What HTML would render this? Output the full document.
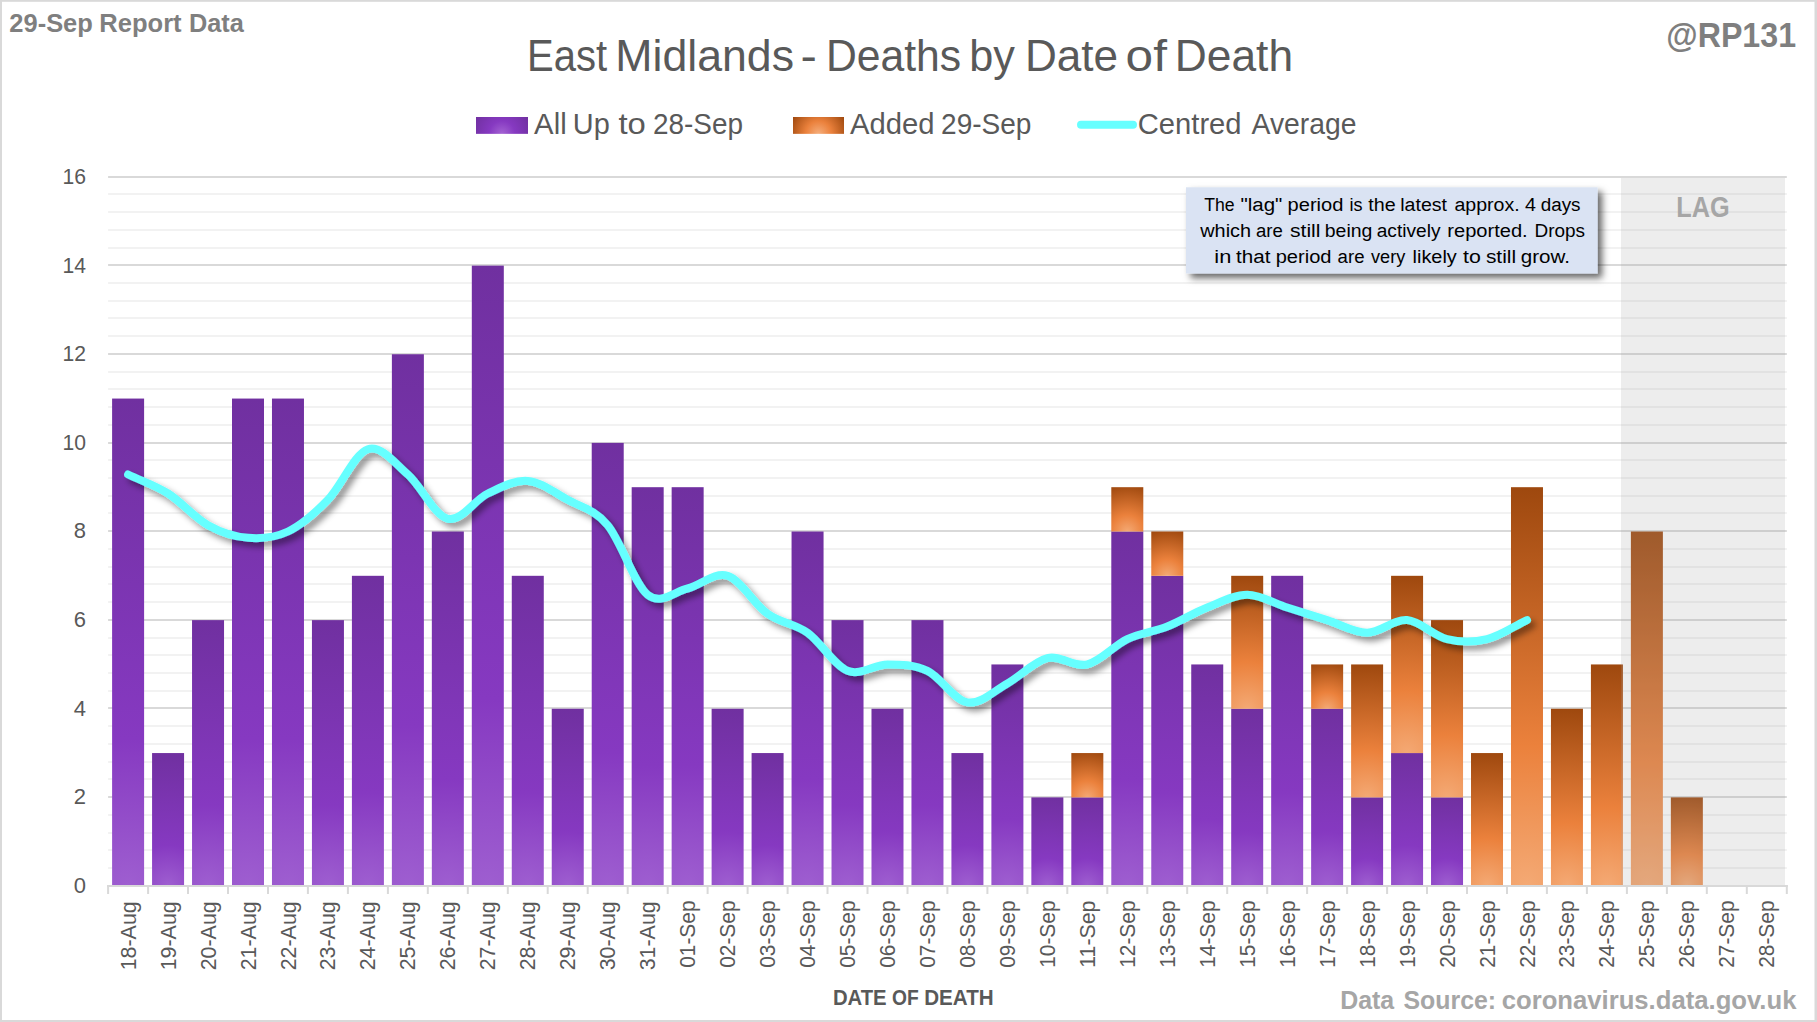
<!DOCTYPE html>
<html><head><meta charset="utf-8"><title>East Midlands - Deaths by Date of Death</title>
<style>
html,body{margin:0;padding:0;background:#fff;}
body{width:1817px;height:1022px;overflow:hidden;}
svg{display:block;font-family:"Liberation Sans",sans-serif;}
</style></head><body>
<svg width="1817" height="1022" viewBox="0 0 1817 1022">
<defs>
<filter id="ls" x="-5%" y="-20%" width="110%" height="150%"><feDropShadow dx="4.3" dy="4.6" stdDeviation="3" flood-color="#000" flood-opacity="0.44"/></filter>
<filter id="bs" x="-10%" y="-20%" width="120%" height="150%"><feDropShadow dx="4.5" dy="4.5" stdDeviation="3.8" flood-color="#000" flood-opacity="0.6"/></filter>
</defs>
<rect x="0" y="0" width="1817" height="1022" fill="#fff"/>

<g><rect x="108.1" y="867" width="1678.7" height="2" fill="#F2F2F2"/><rect x="108.1" y="849" width="1678.7" height="2" fill="#F2F2F2"/><rect x="108.1" y="832" width="1678.7" height="2" fill="#F2F2F2"/><rect x="108.1" y="814" width="1678.7" height="2" fill="#F2F2F2"/><rect x="108.1" y="796" width="1678.7" height="2" fill="#D9D9D9"/><rect x="108.1" y="778" width="1678.7" height="2" fill="#F2F2F2"/><rect x="108.1" y="761" width="1678.7" height="2" fill="#F2F2F2"/><rect x="108.1" y="743" width="1678.7" height="2" fill="#F2F2F2"/><rect x="108.1" y="725" width="1678.7" height="2" fill="#F2F2F2"/><rect x="108.1" y="707" width="1678.7" height="2" fill="#D9D9D9"/><rect x="108.1" y="690" width="1678.7" height="2" fill="#F2F2F2"/><rect x="108.1" y="672" width="1678.7" height="2" fill="#F2F2F2"/><rect x="108.1" y="654" width="1678.7" height="2" fill="#F2F2F2"/><rect x="108.1" y="637" width="1678.7" height="2" fill="#F2F2F2"/><rect x="108.1" y="619" width="1678.7" height="2" fill="#D9D9D9"/><rect x="108.1" y="601" width="1678.7" height="2" fill="#F2F2F2"/><rect x="108.1" y="583" width="1678.7" height="2" fill="#F2F2F2"/><rect x="108.1" y="566" width="1678.7" height="2" fill="#F2F2F2"/><rect x="108.1" y="548" width="1678.7" height="2" fill="#F2F2F2"/><rect x="108.1" y="530" width="1678.7" height="2" fill="#D9D9D9"/><rect x="108.1" y="512" width="1678.7" height="2" fill="#F2F2F2"/><rect x="108.1" y="495" width="1678.7" height="2" fill="#F2F2F2"/><rect x="108.1" y="477" width="1678.7" height="2" fill="#F2F2F2"/><rect x="108.1" y="459" width="1678.7" height="2" fill="#F2F2F2"/><rect x="108.1" y="442" width="1678.7" height="2" fill="#D9D9D9"/><rect x="108.1" y="424" width="1678.7" height="2" fill="#F2F2F2"/><rect x="108.1" y="406" width="1678.7" height="2" fill="#F2F2F2"/><rect x="108.1" y="388" width="1678.7" height="2" fill="#F2F2F2"/><rect x="108.1" y="371" width="1678.7" height="2" fill="#F2F2F2"/><rect x="108.1" y="353" width="1678.7" height="2" fill="#D9D9D9"/><rect x="108.1" y="335" width="1678.7" height="2" fill="#F2F2F2"/><rect x="108.1" y="317" width="1678.7" height="2" fill="#F2F2F2"/><rect x="108.1" y="300" width="1678.7" height="2" fill="#F2F2F2"/><rect x="108.1" y="282" width="1678.7" height="2" fill="#F2F2F2"/><rect x="108.1" y="264" width="1678.7" height="2" fill="#D9D9D9"/><rect x="108.1" y="247" width="1678.7" height="2" fill="#F2F2F2"/><rect x="108.1" y="229" width="1678.7" height="2" fill="#F2F2F2"/><rect x="108.1" y="211" width="1678.7" height="2" fill="#F2F2F2"/><rect x="108.1" y="193" width="1678.7" height="2" fill="#F2F2F2"/><rect x="108.1" y="176" width="1678.7" height="2" fill="#D9D9D9"/></g>
<defs><radialGradient id="p0" gradientUnits="userSpaceOnUse" cx="128.10" cy="885.00" r="486.70"><stop offset="0" stop-color="#9E5ED0"/><stop offset="0.3" stop-color="#8639C1"/><stop offset="1" stop-color="#7030A0"/></radialGradient><radialGradient id="p1" gradientUnits="userSpaceOnUse" cx="168.07" cy="885.00" r="132.90"><stop offset="0" stop-color="#9E5ED0"/><stop offset="0.3" stop-color="#8639C1"/><stop offset="1" stop-color="#7030A0"/></radialGradient><radialGradient id="p2" gradientUnits="userSpaceOnUse" cx="208.04" cy="885.00" r="265.36"><stop offset="0" stop-color="#9E5ED0"/><stop offset="0.3" stop-color="#8639C1"/><stop offset="1" stop-color="#7030A0"/></radialGradient><radialGradient id="p3" gradientUnits="userSpaceOnUse" cx="248.00" cy="885.00" r="486.70"><stop offset="0" stop-color="#9E5ED0"/><stop offset="0.3" stop-color="#8639C1"/><stop offset="1" stop-color="#7030A0"/></radialGradient><radialGradient id="p4" gradientUnits="userSpaceOnUse" cx="287.97" cy="885.00" r="486.70"><stop offset="0" stop-color="#9E5ED0"/><stop offset="0.3" stop-color="#8639C1"/><stop offset="1" stop-color="#7030A0"/></radialGradient><radialGradient id="p5" gradientUnits="userSpaceOnUse" cx="327.94" cy="885.00" r="265.36"><stop offset="0" stop-color="#9E5ED0"/><stop offset="0.3" stop-color="#8639C1"/><stop offset="1" stop-color="#7030A0"/></radialGradient><radialGradient id="p6" gradientUnits="userSpaceOnUse" cx="367.91" cy="885.00" r="309.60"><stop offset="0" stop-color="#9E5ED0"/><stop offset="0.3" stop-color="#8639C1"/><stop offset="1" stop-color="#7030A0"/></radialGradient><radialGradient id="p7" gradientUnits="userSpaceOnUse" cx="407.88" cy="885.00" r="530.99"><stop offset="0" stop-color="#9E5ED0"/><stop offset="0.3" stop-color="#8639C1"/><stop offset="1" stop-color="#7030A0"/></radialGradient><radialGradient id="p8" gradientUnits="userSpaceOnUse" cx="447.84" cy="885.00" r="353.86"><stop offset="0" stop-color="#9E5ED0"/><stop offset="0.3" stop-color="#8639C1"/><stop offset="1" stop-color="#7030A0"/></radialGradient><radialGradient id="p9" gradientUnits="userSpaceOnUse" cx="487.81" cy="885.00" r="619.58"><stop offset="0" stop-color="#9E5ED0"/><stop offset="0.3" stop-color="#8639C1"/><stop offset="1" stop-color="#7030A0"/></radialGradient><radialGradient id="p10" gradientUnits="userSpaceOnUse" cx="527.78" cy="885.00" r="309.60"><stop offset="0" stop-color="#9E5ED0"/><stop offset="0.3" stop-color="#8639C1"/><stop offset="1" stop-color="#7030A0"/></radialGradient><radialGradient id="p11" gradientUnits="userSpaceOnUse" cx="567.75" cy="885.00" r="176.97"><stop offset="0" stop-color="#9E5ED0"/><stop offset="0.3" stop-color="#8639C1"/><stop offset="1" stop-color="#7030A0"/></radialGradient><radialGradient id="p12" gradientUnits="userSpaceOnUse" cx="607.72" cy="885.00" r="442.41"><stop offset="0" stop-color="#9E5ED0"/><stop offset="0.3" stop-color="#8639C1"/><stop offset="1" stop-color="#7030A0"/></radialGradient><radialGradient id="p13" gradientUnits="userSpaceOnUse" cx="647.68" cy="885.00" r="398.13"><stop offset="0" stop-color="#9E5ED0"/><stop offset="0.3" stop-color="#8639C1"/><stop offset="1" stop-color="#7030A0"/></radialGradient><radialGradient id="p14" gradientUnits="userSpaceOnUse" cx="687.65" cy="885.00" r="398.13"><stop offset="0" stop-color="#9E5ED0"/><stop offset="0.3" stop-color="#8639C1"/><stop offset="1" stop-color="#7030A0"/></radialGradient><radialGradient id="p15" gradientUnits="userSpaceOnUse" cx="727.62" cy="885.00" r="176.97"><stop offset="0" stop-color="#9E5ED0"/><stop offset="0.3" stop-color="#8639C1"/><stop offset="1" stop-color="#7030A0"/></radialGradient><radialGradient id="p16" gradientUnits="userSpaceOnUse" cx="767.59" cy="885.00" r="132.90"><stop offset="0" stop-color="#9E5ED0"/><stop offset="0.3" stop-color="#8639C1"/><stop offset="1" stop-color="#7030A0"/></radialGradient><radialGradient id="p17" gradientUnits="userSpaceOnUse" cx="807.56" cy="885.00" r="353.86"><stop offset="0" stop-color="#9E5ED0"/><stop offset="0.3" stop-color="#8639C1"/><stop offset="1" stop-color="#7030A0"/></radialGradient><radialGradient id="p18" gradientUnits="userSpaceOnUse" cx="847.52" cy="885.00" r="265.36"><stop offset="0" stop-color="#9E5ED0"/><stop offset="0.3" stop-color="#8639C1"/><stop offset="1" stop-color="#7030A0"/></radialGradient><radialGradient id="p19" gradientUnits="userSpaceOnUse" cx="887.49" cy="885.00" r="176.97"><stop offset="0" stop-color="#9E5ED0"/><stop offset="0.3" stop-color="#8639C1"/><stop offset="1" stop-color="#7030A0"/></radialGradient><radialGradient id="p20" gradientUnits="userSpaceOnUse" cx="927.46" cy="885.00" r="265.36"><stop offset="0" stop-color="#9E5ED0"/><stop offset="0.3" stop-color="#8639C1"/><stop offset="1" stop-color="#7030A0"/></radialGradient><radialGradient id="p21" gradientUnits="userSpaceOnUse" cx="967.43" cy="885.00" r="132.90"><stop offset="0" stop-color="#9E5ED0"/><stop offset="0.3" stop-color="#8639C1"/><stop offset="1" stop-color="#7030A0"/></radialGradient><radialGradient id="p22" gradientUnits="userSpaceOnUse" cx="1007.40" cy="885.00" r="221.14"><stop offset="0" stop-color="#9E5ED0"/><stop offset="0.3" stop-color="#8639C1"/><stop offset="1" stop-color="#7030A0"/></radialGradient><radialGradient id="p23" gradientUnits="userSpaceOnUse" cx="1047.36" cy="885.00" r="89.07"><stop offset="0" stop-color="#9E5ED0"/><stop offset="0.3" stop-color="#8639C1"/><stop offset="1" stop-color="#7030A0"/></radialGradient><radialGradient id="p24" gradientUnits="userSpaceOnUse" cx="1087.33" cy="885.00" r="89.07"><stop offset="0" stop-color="#9E5ED0"/><stop offset="0.3" stop-color="#8639C1"/><stop offset="1" stop-color="#7030A0"/></radialGradient><radialGradient id="o24" gradientUnits="userSpaceOnUse" cx="1087.33" cy="797.38" r="47.11"><stop offset="0" stop-color="#F4A974"/><stop offset="0.35" stop-color="#EB813C"/><stop offset="1" stop-color="#9E480E"/></radialGradient><radialGradient id="p25" gradientUnits="userSpaceOnUse" cx="1127.30" cy="885.00" r="353.86"><stop offset="0" stop-color="#9E5ED0"/><stop offset="0.3" stop-color="#8639C1"/><stop offset="1" stop-color="#7030A0"/></radialGradient><radialGradient id="o25" gradientUnits="userSpaceOnUse" cx="1127.30" cy="531.50" r="47.11"><stop offset="0" stop-color="#F4A974"/><stop offset="0.35" stop-color="#EB813C"/><stop offset="1" stop-color="#9E480E"/></radialGradient><radialGradient id="p26" gradientUnits="userSpaceOnUse" cx="1167.27" cy="885.00" r="309.60"><stop offset="0" stop-color="#9E5ED0"/><stop offset="0.3" stop-color="#8639C1"/><stop offset="1" stop-color="#7030A0"/></radialGradient><radialGradient id="o26" gradientUnits="userSpaceOnUse" cx="1167.27" cy="575.81" r="47.11"><stop offset="0" stop-color="#F4A974"/><stop offset="0.35" stop-color="#EB813C"/><stop offset="1" stop-color="#9E480E"/></radialGradient><radialGradient id="p27" gradientUnits="userSpaceOnUse" cx="1207.24" cy="885.00" r="221.14"><stop offset="0" stop-color="#9E5ED0"/><stop offset="0.3" stop-color="#8639C1"/><stop offset="1" stop-color="#7030A0"/></radialGradient><radialGradient id="p28" gradientUnits="userSpaceOnUse" cx="1247.20" cy="885.00" r="176.97"><stop offset="0" stop-color="#9E5ED0"/><stop offset="0.3" stop-color="#8639C1"/><stop offset="1" stop-color="#7030A0"/></radialGradient><radialGradient id="o28" gradientUnits="userSpaceOnUse" cx="1247.20" cy="708.75" r="133.90"><stop offset="0" stop-color="#F4A974"/><stop offset="0.35" stop-color="#EB813C"/><stop offset="1" stop-color="#9E480E"/></radialGradient><radialGradient id="p29" gradientUnits="userSpaceOnUse" cx="1287.17" cy="885.00" r="309.60"><stop offset="0" stop-color="#9E5ED0"/><stop offset="0.3" stop-color="#8639C1"/><stop offset="1" stop-color="#7030A0"/></radialGradient><radialGradient id="p30" gradientUnits="userSpaceOnUse" cx="1327.14" cy="885.00" r="176.97"><stop offset="0" stop-color="#9E5ED0"/><stop offset="0.3" stop-color="#8639C1"/><stop offset="1" stop-color="#7030A0"/></radialGradient><radialGradient id="o30" gradientUnits="userSpaceOnUse" cx="1327.14" cy="708.75" r="47.11"><stop offset="0" stop-color="#F4A974"/><stop offset="0.35" stop-color="#EB813C"/><stop offset="1" stop-color="#9E480E"/></radialGradient><radialGradient id="p31" gradientUnits="userSpaceOnUse" cx="1367.11" cy="885.00" r="89.07"><stop offset="0" stop-color="#9E5ED0"/><stop offset="0.3" stop-color="#8639C1"/><stop offset="1" stop-color="#7030A0"/></radialGradient><radialGradient id="o31" gradientUnits="userSpaceOnUse" cx="1367.11" cy="797.38" r="133.90"><stop offset="0" stop-color="#F4A974"/><stop offset="0.35" stop-color="#EB813C"/><stop offset="1" stop-color="#9E480E"/></radialGradient><radialGradient id="p32" gradientUnits="userSpaceOnUse" cx="1407.08" cy="885.00" r="132.90"><stop offset="0" stop-color="#9E5ED0"/><stop offset="0.3" stop-color="#8639C1"/><stop offset="1" stop-color="#7030A0"/></radialGradient><radialGradient id="o32" gradientUnits="userSpaceOnUse" cx="1407.08" cy="753.06" r="177.97"><stop offset="0" stop-color="#F4A974"/><stop offset="0.35" stop-color="#EB813C"/><stop offset="1" stop-color="#9E480E"/></radialGradient><radialGradient id="p33" gradientUnits="userSpaceOnUse" cx="1447.04" cy="885.00" r="89.07"><stop offset="0" stop-color="#9E5ED0"/><stop offset="0.3" stop-color="#8639C1"/><stop offset="1" stop-color="#7030A0"/></radialGradient><radialGradient id="o33" gradientUnits="userSpaceOnUse" cx="1447.04" cy="797.38" r="177.97"><stop offset="0" stop-color="#F4A974"/><stop offset="0.35" stop-color="#EB813C"/><stop offset="1" stop-color="#9E480E"/></radialGradient><radialGradient id="o34" gradientUnits="userSpaceOnUse" cx="1487.01" cy="885.00" r="132.90"><stop offset="0" stop-color="#F4A974"/><stop offset="0.35" stop-color="#EB813C"/><stop offset="1" stop-color="#9E480E"/></radialGradient><radialGradient id="o35" gradientUnits="userSpaceOnUse" cx="1526.98" cy="885.00" r="398.13"><stop offset="0" stop-color="#F4A974"/><stop offset="0.35" stop-color="#EB813C"/><stop offset="1" stop-color="#9E480E"/></radialGradient><radialGradient id="o36" gradientUnits="userSpaceOnUse" cx="1566.95" cy="885.00" r="176.97"><stop offset="0" stop-color="#F4A974"/><stop offset="0.35" stop-color="#EB813C"/><stop offset="1" stop-color="#9E480E"/></radialGradient><radialGradient id="o37" gradientUnits="userSpaceOnUse" cx="1606.92" cy="885.00" r="221.14"><stop offset="0" stop-color="#F4A974"/><stop offset="0.35" stop-color="#EB813C"/><stop offset="1" stop-color="#9E480E"/></radialGradient><radialGradient id="o38" gradientUnits="userSpaceOnUse" cx="1646.88" cy="885.00" r="353.86"><stop offset="0" stop-color="#F4A974"/><stop offset="0.35" stop-color="#EB813C"/><stop offset="1" stop-color="#9E480E"/></radialGradient><radialGradient id="o39" gradientUnits="userSpaceOnUse" cx="1686.85" cy="885.00" r="89.07"><stop offset="0" stop-color="#F4A974"/><stop offset="0.35" stop-color="#EB813C"/><stop offset="1" stop-color="#9E480E"/></radialGradient><radialGradient id="lp" gradientUnits="userSpaceOnUse" cx="502.00" cy="133.85" r="30.98"><stop offset="0" stop-color="#A463D3"/><stop offset="0.42" stop-color="#8639C1"/><stop offset="1" stop-color="#7030A0"/></radialGradient><radialGradient id="lo" gradientUnits="userSpaceOnUse" cx="818.50" cy="133.85" r="30.56"><stop offset="0" stop-color="#F5AE7C"/><stop offset="0.42" stop-color="#EB813C"/><stop offset="1" stop-color="#9E480E"/></radialGradient></defs>
<g><rect x="112.10" y="398.56" width="32" height="486.44" fill="url(#p0)"/><rect x="152.07" y="753.06" width="32" height="131.94" fill="url(#p1)"/><rect x="192.04" y="620.12" width="32" height="264.88" fill="url(#p2)"/><rect x="232.00" y="398.56" width="32" height="486.44" fill="url(#p3)"/><rect x="271.97" y="398.56" width="32" height="486.44" fill="url(#p4)"/><rect x="311.94" y="620.12" width="32" height="264.88" fill="url(#p5)"/><rect x="351.91" y="575.81" width="32" height="309.19" fill="url(#p6)"/><rect x="391.88" y="354.25" width="32" height="530.75" fill="url(#p7)"/><rect x="431.84" y="531.50" width="32" height="353.50" fill="url(#p8)"/><rect x="471.81" y="265.62" width="32" height="619.38" fill="url(#p9)"/><rect x="511.78" y="575.81" width="32" height="309.19" fill="url(#p10)"/><rect x="551.75" y="708.75" width="32" height="176.25" fill="url(#p11)"/><rect x="591.72" y="442.88" width="32" height="442.12" fill="url(#p12)"/><rect x="631.68" y="487.19" width="32" height="397.81" fill="url(#p13)"/><rect x="671.65" y="487.19" width="32" height="397.81" fill="url(#p14)"/><rect x="711.62" y="708.75" width="32" height="176.25" fill="url(#p15)"/><rect x="751.59" y="753.06" width="32" height="131.94" fill="url(#p16)"/><rect x="791.56" y="531.50" width="32" height="353.50" fill="url(#p17)"/><rect x="831.52" y="620.12" width="32" height="264.88" fill="url(#p18)"/><rect x="871.49" y="708.75" width="32" height="176.25" fill="url(#p19)"/><rect x="911.46" y="620.12" width="32" height="264.88" fill="url(#p20)"/><rect x="951.43" y="753.06" width="32" height="131.94" fill="url(#p21)"/><rect x="991.40" y="664.44" width="32" height="220.56" fill="url(#p22)"/><rect x="1031.36" y="797.38" width="32" height="87.62" fill="url(#p23)"/><rect x="1071.33" y="797.38" width="32" height="87.62" fill="url(#p24)"/><rect x="1071.33" y="753.06" width="32" height="44.31" fill="url(#o24)"/><rect x="1111.30" y="531.50" width="32" height="353.50" fill="url(#p25)"/><rect x="1111.30" y="487.19" width="32" height="44.31" fill="url(#o25)"/><rect x="1151.27" y="575.81" width="32" height="309.19" fill="url(#p26)"/><rect x="1151.27" y="531.50" width="32" height="44.31" fill="url(#o26)"/><rect x="1191.24" y="664.44" width="32" height="220.56" fill="url(#p27)"/><rect x="1231.20" y="708.75" width="32" height="176.25" fill="url(#p28)"/><rect x="1231.20" y="575.81" width="32" height="132.94" fill="url(#o28)"/><rect x="1271.17" y="575.81" width="32" height="309.19" fill="url(#p29)"/><rect x="1311.14" y="708.75" width="32" height="176.25" fill="url(#p30)"/><rect x="1311.14" y="664.44" width="32" height="44.31" fill="url(#o30)"/><rect x="1351.11" y="797.38" width="32" height="87.62" fill="url(#p31)"/><rect x="1351.11" y="664.44" width="32" height="132.94" fill="url(#o31)"/><rect x="1391.08" y="753.06" width="32" height="131.94" fill="url(#p32)"/><rect x="1391.08" y="575.81" width="32" height="177.25" fill="url(#o32)"/><rect x="1431.04" y="797.38" width="32" height="87.62" fill="url(#p33)"/><rect x="1431.04" y="620.12" width="32" height="177.25" fill="url(#o33)"/><rect x="1471.01" y="753.06" width="32" height="131.94" fill="url(#o34)"/><rect x="1510.98" y="487.19" width="32" height="397.81" fill="url(#o35)"/><rect x="1550.95" y="708.75" width="32" height="176.25" fill="url(#o36)"/><rect x="1590.92" y="664.44" width="32" height="220.56" fill="url(#o37)"/><rect x="1630.88" y="531.50" width="32" height="353.50" fill="url(#o38)"/><rect x="1670.85" y="797.38" width="32" height="87.62" fill="url(#o39)"/><rect x="476" y="117" width="52" height="16.85" fill="url(#lp)"/><rect x="793" y="117" width="51" height="16.85" fill="url(#lo)"/></g>
<g><rect x="107.1" y="885" width="1680.7" height="2" fill="#D9D9D9"/><rect x="107.1" y="885" width="2" height="9" fill="#D9D9D9"/><rect x="147.1" y="885" width="2" height="9" fill="#D9D9D9"/><rect x="187.0" y="885" width="2" height="9" fill="#D9D9D9"/><rect x="227.0" y="885" width="2" height="9" fill="#D9D9D9"/><rect x="267.0" y="885" width="2" height="9" fill="#D9D9D9"/><rect x="306.9" y="885" width="2" height="9" fill="#D9D9D9"/><rect x="346.9" y="885" width="2" height="9" fill="#D9D9D9"/><rect x="386.9" y="885" width="2" height="9" fill="#D9D9D9"/><rect x="426.8" y="885" width="2" height="9" fill="#D9D9D9"/><rect x="466.8" y="885" width="2" height="9" fill="#D9D9D9"/><rect x="506.8" y="885" width="2" height="9" fill="#D9D9D9"/><rect x="546.7" y="885" width="2" height="9" fill="#D9D9D9"/><rect x="586.7" y="885" width="2" height="9" fill="#D9D9D9"/><rect x="626.7" y="885" width="2" height="9" fill="#D9D9D9"/><rect x="666.7" y="885" width="2" height="9" fill="#D9D9D9"/><rect x="706.6" y="885" width="2" height="9" fill="#D9D9D9"/><rect x="746.6" y="885" width="2" height="9" fill="#D9D9D9"/><rect x="786.6" y="885" width="2" height="9" fill="#D9D9D9"/><rect x="826.5" y="885" width="2" height="9" fill="#D9D9D9"/><rect x="866.5" y="885" width="2" height="9" fill="#D9D9D9"/><rect x="906.5" y="885" width="2" height="9" fill="#D9D9D9"/><rect x="946.4" y="885" width="2" height="9" fill="#D9D9D9"/><rect x="986.4" y="885" width="2" height="9" fill="#D9D9D9"/><rect x="1026.4" y="885" width="2" height="9" fill="#D9D9D9"/><rect x="1066.3" y="885" width="2" height="9" fill="#D9D9D9"/><rect x="1106.3" y="885" width="2" height="9" fill="#D9D9D9"/><rect x="1146.3" y="885" width="2" height="9" fill="#D9D9D9"/><rect x="1186.2" y="885" width="2" height="9" fill="#D9D9D9"/><rect x="1226.2" y="885" width="2" height="9" fill="#D9D9D9"/><rect x="1266.2" y="885" width="2" height="9" fill="#D9D9D9"/><rect x="1306.1" y="885" width="2" height="9" fill="#D9D9D9"/><rect x="1346.1" y="885" width="2" height="9" fill="#D9D9D9"/><rect x="1386.1" y="885" width="2" height="9" fill="#D9D9D9"/><rect x="1426.0" y="885" width="2" height="9" fill="#D9D9D9"/><rect x="1466.0" y="885" width="2" height="9" fill="#D9D9D9"/><rect x="1506.0" y="885" width="2" height="9" fill="#D9D9D9"/><rect x="1545.9" y="885" width="2" height="9" fill="#D9D9D9"/><rect x="1585.9" y="885" width="2" height="9" fill="#D9D9D9"/><rect x="1625.9" y="885" width="2" height="9" fill="#D9D9D9"/><rect x="1665.9" y="885" width="2" height="9" fill="#D9D9D9"/><rect x="1705.8" y="885" width="2" height="9" fill="#D9D9D9"/><rect x="1745.8" y="885" width="2" height="9" fill="#D9D9D9"/><rect x="1785.8" y="885" width="2" height="9" fill="#D9D9D9"/></g>
<path d="M128.1,474.5C141.4,480.9 154.7,485.1 168.1,493.5C181.4,502.0 194.7,517.8 208.0,525.2C221.3,532.6 234.7,536.8 248.0,537.8C261.3,538.9 274.6,537.8 288.0,531.5C301.3,525.2 314.6,513.6 327.9,499.8C341.2,486.1 354.6,453.4 367.9,449.2C381.2,445.0 394.5,462.9 407.9,474.5C421.2,486.1 434.5,515.7 447.8,518.8C461.2,522.0 474.5,499.8 487.8,493.5C501.1,487.2 514.4,479.8 527.8,480.9C541.1,481.9 554.4,492.5 567.7,499.8C581.1,507.2 594.4,509.3 607.7,525.2C621.0,541.0 634.3,584.3 647.7,594.8C661.0,605.4 674.3,591.6 687.6,588.5C701.0,585.3 714.3,571.6 727.6,575.8C740.9,580.0 754.2,604.3 767.6,613.8C780.9,623.3 794.2,623.3 807.5,632.8C820.9,642.3 834.2,665.5 847.5,670.8C860.8,676.0 874.2,664.4 887.5,664.4C900.8,664.4 914.1,664.4 927.4,670.8C940.8,677.1 954.1,700.3 967.4,702.4C980.7,704.5 994.1,690.8 1007.4,683.4C1020.7,676.0 1034.0,661.3 1047.3,658.1C1060.7,654.9 1074.0,667.6 1087.3,664.4C1100.6,661.3 1114.0,645.4 1127.3,639.1C1140.6,632.8 1153.9,631.7 1167.3,626.5C1180.6,621.2 1193.9,612.7 1207.2,607.5C1220.5,602.2 1233.9,594.8 1247.2,594.8C1260.5,594.8 1273.8,603.2 1287.2,607.5C1300.5,611.7 1313.8,615.9 1327.1,620.1C1340.4,624.3 1353.8,632.8 1367.1,632.8C1380.4,632.8 1393.7,619.1 1407.1,620.1C1420.4,621.2 1433.7,636.0 1447.0,639.1C1460.4,642.3 1473.7,642.3 1487.0,639.1C1500.3,636.0 1513.6,626.5 1527.0,620.1" fill="none" stroke="#66FFFF" stroke-width="8" stroke-linecap="round" stroke-linejoin="round" filter="url(#ls)"/>
<line x1="1081" y1="124.8" x2="1133" y2="124.8" stroke="#66FFFF" stroke-width="8" stroke-linecap="round"/>
<rect x="1621" y="178" width="164" height="707" fill="#A6A6A6" fill-opacity="0.2"/>
<rect x="1186" y="187.3" width="411.6" height="86.2" fill="#DAE3F3" filter="url(#bs)"/>
<text x="9.35" y="31.7" font-size="25" fill="#7F7F7F" font-weight="bold" textLength="83.49" lengthAdjust="spacingAndGlyphs">29-Sep</text>
<text x="99.33" y="31.7" font-size="25" fill="#7F7F7F" font-weight="bold" textLength="82.26" lengthAdjust="spacingAndGlyphs">Report</text>
<text x="189.00" y="31.7" font-size="25" fill="#7F7F7F" font-weight="bold" textLength="54.86" lengthAdjust="spacingAndGlyphs">Data</text>
<text x="1666.26" y="46.8" font-size="34.7" fill="#7F7F7F" font-weight="bold" textLength="129.84" lengthAdjust="spacingAndGlyphs">@RP131</text>
<text x="527.02" y="71.4" font-size="44.2" fill="#595959" font-weight="normal" textLength="80.08" lengthAdjust="spacingAndGlyphs">East</text>
<text x="615.34" y="71.4" font-size="44.2" fill="#595959" font-weight="normal" textLength="178.68" lengthAdjust="spacingAndGlyphs">Midlands</text>
<text x="800.62" y="71.4" font-size="44.2" fill="#595959" font-weight="normal" textLength="16.37" lengthAdjust="spacingAndGlyphs">-</text>
<text x="825.90" y="71.4" font-size="44.2" fill="#595959" font-weight="normal" textLength="135.24" lengthAdjust="spacingAndGlyphs">Deaths</text>
<text x="969.31" y="71.4" font-size="44.2" fill="#595959" font-weight="normal" textLength="45.67" lengthAdjust="spacingAndGlyphs">by</text>
<text x="1024.88" y="71.4" font-size="44.2" fill="#595959" font-weight="normal" textLength="93.18" lengthAdjust="spacingAndGlyphs">Date</text>
<text x="1125.62" y="71.4" font-size="44.2" fill="#595959" font-weight="normal" textLength="41.31" lengthAdjust="spacingAndGlyphs">of</text>
<text x="1174.87" y="71.4" font-size="44.2" fill="#595959" font-weight="normal" textLength="118.21" lengthAdjust="spacingAndGlyphs">Death</text>
<text x="534.14" y="133.8" font-size="28.9" fill="#595959" font-weight="normal" textLength="32.51" lengthAdjust="spacingAndGlyphs">All</text>
<text x="572.87" y="133.8" font-size="28.9" fill="#595959" font-weight="normal" textLength="36.94" lengthAdjust="spacingAndGlyphs">Up</text>
<text x="618.50" y="133.8" font-size="28.9" fill="#595959" font-weight="normal" textLength="27.38" lengthAdjust="spacingAndGlyphs">to</text>
<text x="653.00" y="133.8" font-size="28.9" fill="#595959" font-weight="normal" textLength="89.97" lengthAdjust="spacingAndGlyphs">28-Sep</text>
<text x="849.94" y="133.8" font-size="28.9" fill="#595959" font-weight="normal" textLength="84.54" lengthAdjust="spacingAndGlyphs">Added</text>
<text x="941.09" y="133.8" font-size="28.9" fill="#595959" font-weight="normal" textLength="90.39" lengthAdjust="spacingAndGlyphs">29-Sep</text>
<text x="1137.82" y="133.8" font-size="28.9" fill="#595959" font-weight="normal" textLength="103.76" lengthAdjust="spacingAndGlyphs">Centred</text>
<text x="1251.54" y="133.8" font-size="28.9" fill="#595959" font-weight="normal" textLength="105.01" lengthAdjust="spacingAndGlyphs">Average</text>
<text x="832.88" y="1005.0" font-size="21.6" fill="#595959" font-weight="bold" textLength="53.79" lengthAdjust="spacingAndGlyphs">DATE</text>
<text x="892.01" y="1005.0" font-size="21.6" fill="#595959" font-weight="bold" textLength="26.69" lengthAdjust="spacingAndGlyphs">OF</text>
<text x="924.15" y="1005.0" font-size="21.6" fill="#595959" font-weight="bold" textLength="69.51" lengthAdjust="spacingAndGlyphs">DEATH</text>
<text x="1340.23" y="1008.8" font-size="25.8" fill="#A6A6A6" font-weight="bold" textLength="54.01" lengthAdjust="spacingAndGlyphs">Data</text>
<text x="1403.48" y="1008.8" font-size="25.8" fill="#A6A6A6" font-weight="bold" textLength="92.61" lengthAdjust="spacingAndGlyphs">Source:</text>
<text x="1501.70" y="1008.8" font-size="25.8" fill="#A6A6A6" font-weight="bold" textLength="294.77" lengthAdjust="spacingAndGlyphs">coronavirus.data.gov.uk</text>
<text x="1676.21" y="217.3" font-size="30.3" fill="#A6A6A6" font-weight="bold" textLength="53.36" lengthAdjust="spacingAndGlyphs">LAG</text>
<text x="1204.27" y="210.9" font-size="19.2" fill="#000" font-weight="normal" textLength="30.40" lengthAdjust="spacingAndGlyphs">The</text>
<text x="1240.45" y="210.9" font-size="19.2" fill="#000" font-weight="normal" textLength="41.86" lengthAdjust="spacingAndGlyphs">&quot;lag&quot;</text>
<text x="1287.58" y="210.9" font-size="19.2" fill="#000" font-weight="normal" textLength="55.83" lengthAdjust="spacingAndGlyphs">period</text>
<text x="1349.58" y="210.9" font-size="19.2" fill="#000" font-weight="normal" textLength="13.00" lengthAdjust="spacingAndGlyphs">is</text>
<text x="1368.31" y="210.9" font-size="19.2" fill="#000" font-weight="normal" textLength="27.43" lengthAdjust="spacingAndGlyphs">the</text>
<text x="1400.23" y="210.9" font-size="19.2" fill="#000" font-weight="normal" textLength="46.78" lengthAdjust="spacingAndGlyphs">latest</text>
<text x="1454.46" y="210.9" font-size="19.2" fill="#000" font-weight="normal" textLength="65.27" lengthAdjust="spacingAndGlyphs">approx.</text>
<text x="1524.92" y="210.9" font-size="19.2" fill="#000" font-weight="normal" textLength="10.93" lengthAdjust="spacingAndGlyphs">4</text>
<text x="1540.68" y="210.9" font-size="19.2" fill="#000" font-weight="normal" textLength="39.86" lengthAdjust="spacingAndGlyphs">days</text>
<text x="1200.24" y="236.9" font-size="19.2" fill="#000" font-weight="normal" textLength="50.79" lengthAdjust="spacingAndGlyphs">which</text>
<text x="1255.89" y="236.9" font-size="19.2" fill="#000" font-weight="normal" textLength="26.88" lengthAdjust="spacingAndGlyphs">are</text>
<text x="1290.02" y="236.9" font-size="19.2" fill="#000" font-weight="normal" textLength="30.48" lengthAdjust="spacingAndGlyphs">still</text>
<text x="1324.76" y="236.9" font-size="19.2" fill="#000" font-weight="normal" textLength="47.58" lengthAdjust="spacingAndGlyphs">being</text>
<text x="1376.72" y="236.9" font-size="19.2" fill="#000" font-weight="normal" textLength="63.75" lengthAdjust="spacingAndGlyphs">actively</text>
<text x="1447.27" y="236.9" font-size="19.2" fill="#000" font-weight="normal" textLength="80.44" lengthAdjust="spacingAndGlyphs">reported.</text>
<text x="1534.47" y="236.9" font-size="19.2" fill="#000" font-weight="normal" textLength="50.53" lengthAdjust="spacingAndGlyphs">Drops</text>
<text x="1214.35" y="262.9" font-size="19.2" fill="#000" font-weight="normal" textLength="16.99" lengthAdjust="spacingAndGlyphs">in</text>
<text x="1236.06" y="262.9" font-size="19.2" fill="#000" font-weight="normal" textLength="34.39" lengthAdjust="spacingAndGlyphs">that</text>
<text x="1275.69" y="262.9" font-size="19.2" fill="#000" font-weight="normal" textLength="55.83" lengthAdjust="spacingAndGlyphs">period</text>
<text x="1337.61" y="262.9" font-size="19.2" fill="#000" font-weight="normal" textLength="26.88" lengthAdjust="spacingAndGlyphs">are</text>
<text x="1371.03" y="262.9" font-size="19.2" fill="#000" font-weight="normal" textLength="34.27" lengthAdjust="spacingAndGlyphs">very</text>
<text x="1412.59" y="262.9" font-size="19.2" fill="#000" font-weight="normal" textLength="44.22" lengthAdjust="spacingAndGlyphs">likely</text>
<text x="1463.14" y="262.9" font-size="19.2" fill="#000" font-weight="normal" textLength="17.81" lengthAdjust="spacingAndGlyphs">to</text>
<text x="1485.91" y="262.9" font-size="19.2" fill="#000" font-weight="normal" textLength="30.21" lengthAdjust="spacingAndGlyphs">still</text>
<text x="1520.81" y="262.9" font-size="19.2" fill="#000" font-weight="normal" textLength="49.24" lengthAdjust="spacingAndGlyphs">grow.</text>
<text x="86.0" y="892.9" font-size="22" fill="#595959" font-weight="normal" text-anchor="end">0</text>
<text x="86.0" y="804.3" font-size="22" fill="#595959" font-weight="normal" text-anchor="end">2</text>
<text x="86.0" y="715.6" font-size="22" fill="#595959" font-weight="normal" text-anchor="end">4</text>
<text x="86.0" y="627.0" font-size="22" fill="#595959" font-weight="normal" text-anchor="end">6</text>
<text x="86.0" y="538.4" font-size="22" fill="#595959" font-weight="normal" text-anchor="end">8</text>
<text x="86.0" y="449.8" font-size="22" fill="#595959" font-weight="normal" text-anchor="end" textLength="23.5" lengthAdjust="spacingAndGlyphs">10</text>
<text x="86.0" y="361.1" font-size="22" fill="#595959" font-weight="normal" text-anchor="end" textLength="23.5" lengthAdjust="spacingAndGlyphs">12</text>
<text x="86.0" y="272.5" font-size="22" fill="#595959" font-weight="normal" text-anchor="end" textLength="23.5" lengthAdjust="spacingAndGlyphs">14</text>
<text x="86.0" y="183.9" font-size="22" fill="#595959" font-weight="normal" text-anchor="end" textLength="23.5" lengthAdjust="spacingAndGlyphs">16</text>
<text transform="translate(135.6,901.3) rotate(-90)" font-size="22" fill="#595959" text-anchor="end" textLength="69" lengthAdjust="spacingAndGlyphs">18-Aug</text>
<text transform="translate(175.6,901.3) rotate(-90)" font-size="22" fill="#595959" text-anchor="end" textLength="69" lengthAdjust="spacingAndGlyphs">19-Aug</text>
<text transform="translate(215.5,901.3) rotate(-90)" font-size="22" fill="#595959" text-anchor="end" textLength="69" lengthAdjust="spacingAndGlyphs">20-Aug</text>
<text transform="translate(255.5,901.3) rotate(-90)" font-size="22" fill="#595959" text-anchor="end" textLength="69" lengthAdjust="spacingAndGlyphs">21-Aug</text>
<text transform="translate(295.5,901.3) rotate(-90)" font-size="22" fill="#595959" text-anchor="end" textLength="69" lengthAdjust="spacingAndGlyphs">22-Aug</text>
<text transform="translate(335.4,901.3) rotate(-90)" font-size="22" fill="#595959" text-anchor="end" textLength="69" lengthAdjust="spacingAndGlyphs">23-Aug</text>
<text transform="translate(375.4,901.3) rotate(-90)" font-size="22" fill="#595959" text-anchor="end" textLength="69" lengthAdjust="spacingAndGlyphs">24-Aug</text>
<text transform="translate(415.4,901.3) rotate(-90)" font-size="22" fill="#595959" text-anchor="end" textLength="69" lengthAdjust="spacingAndGlyphs">25-Aug</text>
<text transform="translate(455.3,901.3) rotate(-90)" font-size="22" fill="#595959" text-anchor="end" textLength="69" lengthAdjust="spacingAndGlyphs">26-Aug</text>
<text transform="translate(495.3,901.3) rotate(-90)" font-size="22" fill="#595959" text-anchor="end" textLength="69" lengthAdjust="spacingAndGlyphs">27-Aug</text>
<text transform="translate(535.3,901.3) rotate(-90)" font-size="22" fill="#595959" text-anchor="end" textLength="69" lengthAdjust="spacingAndGlyphs">28-Aug</text>
<text transform="translate(575.2,901.3) rotate(-90)" font-size="22" fill="#595959" text-anchor="end" textLength="69" lengthAdjust="spacingAndGlyphs">29-Aug</text>
<text transform="translate(615.2,901.3) rotate(-90)" font-size="22" fill="#595959" text-anchor="end" textLength="69" lengthAdjust="spacingAndGlyphs">30-Aug</text>
<text transform="translate(655.2,901.3) rotate(-90)" font-size="22" fill="#595959" text-anchor="end" textLength="69" lengthAdjust="spacingAndGlyphs">31-Aug</text>
<text transform="translate(695.1,900.5) rotate(-90)" font-size="22" fill="#595959" text-anchor="end" textLength="67.3" lengthAdjust="spacingAndGlyphs">01-Sep</text>
<text transform="translate(735.1,900.5) rotate(-90)" font-size="22" fill="#595959" text-anchor="end" textLength="67.3" lengthAdjust="spacingAndGlyphs">02-Sep</text>
<text transform="translate(775.1,900.5) rotate(-90)" font-size="22" fill="#595959" text-anchor="end" textLength="67.3" lengthAdjust="spacingAndGlyphs">03-Sep</text>
<text transform="translate(815.0,900.5) rotate(-90)" font-size="22" fill="#595959" text-anchor="end" textLength="67.3" lengthAdjust="spacingAndGlyphs">04-Sep</text>
<text transform="translate(855.0,900.5) rotate(-90)" font-size="22" fill="#595959" text-anchor="end" textLength="67.3" lengthAdjust="spacingAndGlyphs">05-Sep</text>
<text transform="translate(895.0,900.5) rotate(-90)" font-size="22" fill="#595959" text-anchor="end" textLength="67.3" lengthAdjust="spacingAndGlyphs">06-Sep</text>
<text transform="translate(934.9,900.5) rotate(-90)" font-size="22" fill="#595959" text-anchor="end" textLength="67.3" lengthAdjust="spacingAndGlyphs">07-Sep</text>
<text transform="translate(974.9,900.5) rotate(-90)" font-size="22" fill="#595959" text-anchor="end" textLength="67.3" lengthAdjust="spacingAndGlyphs">08-Sep</text>
<text transform="translate(1014.9,900.5) rotate(-90)" font-size="22" fill="#595959" text-anchor="end" textLength="67.3" lengthAdjust="spacingAndGlyphs">09-Sep</text>
<text transform="translate(1054.8,900.5) rotate(-90)" font-size="22" fill="#595959" text-anchor="end" textLength="67.3" lengthAdjust="spacingAndGlyphs">10-Sep</text>
<text transform="translate(1094.8,900.5) rotate(-90)" font-size="22" fill="#595959" text-anchor="end" textLength="67.3" lengthAdjust="spacingAndGlyphs">11-Sep</text>
<text transform="translate(1134.8,900.5) rotate(-90)" font-size="22" fill="#595959" text-anchor="end" textLength="67.3" lengthAdjust="spacingAndGlyphs">12-Sep</text>
<text transform="translate(1174.8,900.5) rotate(-90)" font-size="22" fill="#595959" text-anchor="end" textLength="67.3" lengthAdjust="spacingAndGlyphs">13-Sep</text>
<text transform="translate(1214.7,900.5) rotate(-90)" font-size="22" fill="#595959" text-anchor="end" textLength="67.3" lengthAdjust="spacingAndGlyphs">14-Sep</text>
<text transform="translate(1254.7,900.5) rotate(-90)" font-size="22" fill="#595959" text-anchor="end" textLength="67.3" lengthAdjust="spacingAndGlyphs">15-Sep</text>
<text transform="translate(1294.7,900.5) rotate(-90)" font-size="22" fill="#595959" text-anchor="end" textLength="67.3" lengthAdjust="spacingAndGlyphs">16-Sep</text>
<text transform="translate(1334.6,900.5) rotate(-90)" font-size="22" fill="#595959" text-anchor="end" textLength="67.3" lengthAdjust="spacingAndGlyphs">17-Sep</text>
<text transform="translate(1374.6,900.5) rotate(-90)" font-size="22" fill="#595959" text-anchor="end" textLength="67.3" lengthAdjust="spacingAndGlyphs">18-Sep</text>
<text transform="translate(1414.6,900.5) rotate(-90)" font-size="22" fill="#595959" text-anchor="end" textLength="67.3" lengthAdjust="spacingAndGlyphs">19-Sep</text>
<text transform="translate(1454.5,900.5) rotate(-90)" font-size="22" fill="#595959" text-anchor="end" textLength="67.3" lengthAdjust="spacingAndGlyphs">20-Sep</text>
<text transform="translate(1494.5,900.5) rotate(-90)" font-size="22" fill="#595959" text-anchor="end" textLength="67.3" lengthAdjust="spacingAndGlyphs">21-Sep</text>
<text transform="translate(1534.5,900.5) rotate(-90)" font-size="22" fill="#595959" text-anchor="end" textLength="67.3" lengthAdjust="spacingAndGlyphs">22-Sep</text>
<text transform="translate(1574.4,900.5) rotate(-90)" font-size="22" fill="#595959" text-anchor="end" textLength="67.3" lengthAdjust="spacingAndGlyphs">23-Sep</text>
<text transform="translate(1614.4,900.5) rotate(-90)" font-size="22" fill="#595959" text-anchor="end" textLength="67.3" lengthAdjust="spacingAndGlyphs">24-Sep</text>
<text transform="translate(1654.4,900.5) rotate(-90)" font-size="22" fill="#595959" text-anchor="end" textLength="67.3" lengthAdjust="spacingAndGlyphs">25-Sep</text>
<text transform="translate(1694.3,900.5) rotate(-90)" font-size="22" fill="#595959" text-anchor="end" textLength="67.3" lengthAdjust="spacingAndGlyphs">26-Sep</text>
<text transform="translate(1734.3,900.5) rotate(-90)" font-size="22" fill="#595959" text-anchor="end" textLength="67.3" lengthAdjust="spacingAndGlyphs">27-Sep</text>
<text transform="translate(1774.3,900.5) rotate(-90)" font-size="22" fill="#595959" text-anchor="end" textLength="67.3" lengthAdjust="spacingAndGlyphs">28-Sep</text>
<rect x="0" y="0" width="1817" height="1.8" fill="#D9D9D9"/><rect x="0" y="1020" width="1817" height="2" fill="#D9D9D9"/><rect x="0" y="0" width="2" height="1022" fill="#D9D9D9"/><rect x="1814.5" y="0" width="2.5" height="1022" fill="#D9D9D9"/>
</svg></body></html>
